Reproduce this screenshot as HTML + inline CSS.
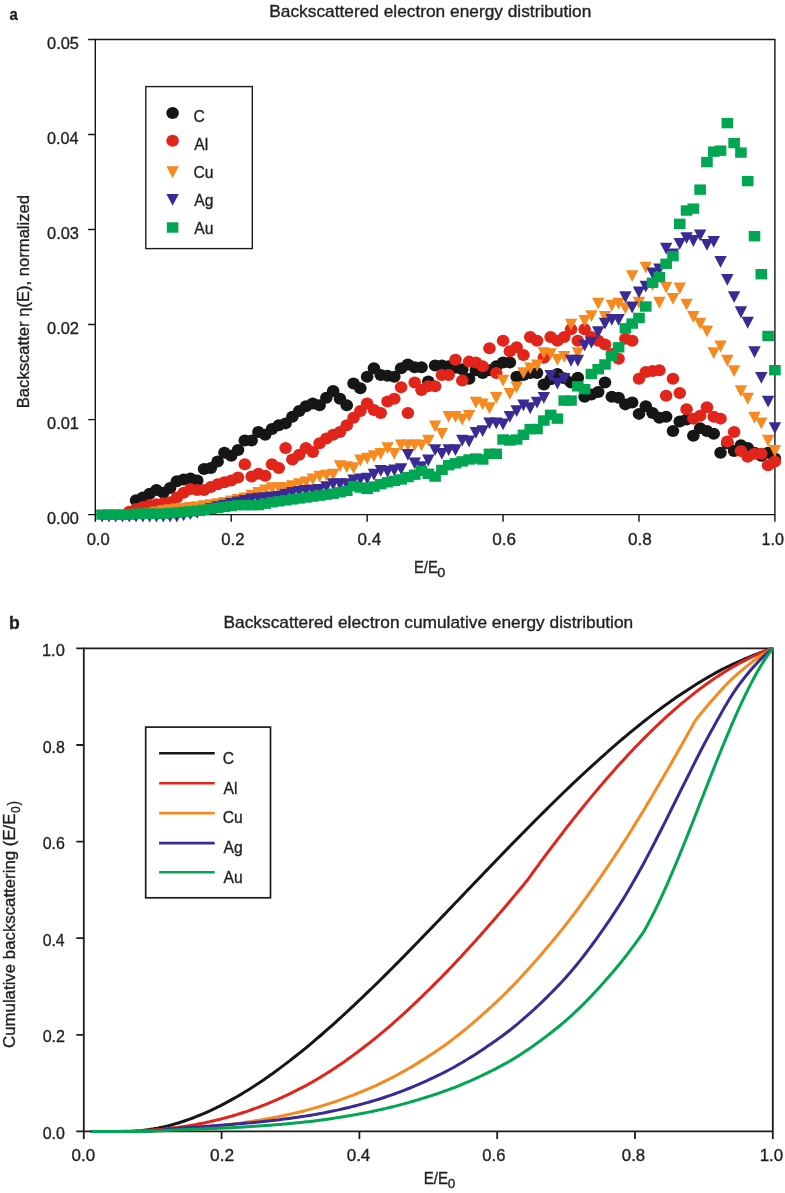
<!DOCTYPE html>
<html><head><meta charset="utf-8"><title>Backscattered electron energy distribution</title>
<style>html,body{margin:0;padding:0;background:#fff;} svg{display:block;} text{font-family:"Liberation Sans", sans-serif;stroke:#231f20;stroke-width:0.35px;}</style></head>
<body><svg width="785" height="1193" viewBox="0 0 785 1193" style="will-change:transform">
<rect width="785" height="1193" fill="#fff"/>
<path d="M95.3,39.5 H774.9 V514.6 H95.3 Z" fill="none" stroke="#141414" stroke-width="1.4"/>
<path d="M88.1,514.60 H95.3 M88.1,419.58 H95.3 M88.1,324.56 H95.3 M88.1,229.54 H95.3 M88.1,134.52 H95.3 M88.1,39.50 H95.3 M95.30,514.6 V521.8000000000001 M231.22,514.6 V521.8000000000001 M367.14,514.6 V521.8000000000001 M503.06,514.6 V521.8000000000001 M638.98,514.6 V521.8000000000001 M774.90,514.6 V521.8000000000001" fill="none" stroke="#141414" stroke-width="1.4"/>
<g fill="#161616"><ellipse cx="136.08" cy="500.35" rx="6.3" ry="6.0"/><ellipse cx="142.87" cy="497.50" rx="6.3" ry="6.0"/><ellipse cx="149.67" cy="493.70" rx="6.3" ry="6.0"/><ellipse cx="156.46" cy="489.89" rx="6.3" ry="6.0"/><ellipse cx="163.26" cy="492.75" rx="6.3" ry="6.0"/><ellipse cx="170.06" cy="487.99" rx="6.3" ry="6.0"/><ellipse cx="176.85" cy="481.34" rx="6.3" ry="6.0"/><ellipse cx="183.65" cy="479.44" rx="6.3" ry="6.0"/><ellipse cx="190.44" cy="478.49" rx="6.3" ry="6.0"/><ellipse cx="197.24" cy="480.39" rx="6.3" ry="6.0"/><ellipse cx="204.04" cy="468.99" rx="6.3" ry="6.0"/><ellipse cx="210.83" cy="468.04" rx="6.3" ry="6.0"/><ellipse cx="217.63" cy="461.39" rx="6.3" ry="6.0"/><ellipse cx="224.42" cy="452.84" rx="6.3" ry="6.0"/><ellipse cx="231.22" cy="455.69" rx="6.3" ry="6.0"/><ellipse cx="238.02" cy="449.99" rx="6.3" ry="6.0"/><ellipse cx="244.81" cy="440.48" rx="6.3" ry="6.0"/><ellipse cx="251.61" cy="440.48" rx="6.3" ry="6.0"/><ellipse cx="258.40" cy="431.93" rx="6.3" ry="6.0"/><ellipse cx="265.20" cy="434.78" rx="6.3" ry="6.0"/><ellipse cx="272.00" cy="429.08" rx="6.3" ry="6.0"/><ellipse cx="278.79" cy="425.28" rx="6.3" ry="6.0"/><ellipse cx="285.59" cy="423.38" rx="6.3" ry="6.0"/><ellipse cx="292.38" cy="416.73" rx="6.3" ry="6.0"/><ellipse cx="299.18" cy="411.03" rx="6.3" ry="6.0"/><ellipse cx="305.98" cy="406.28" rx="6.3" ry="6.0"/><ellipse cx="312.77" cy="403.43" rx="6.3" ry="6.0"/><ellipse cx="319.57" cy="405.33" rx="6.3" ry="6.0"/><ellipse cx="326.36" cy="397.73" rx="6.3" ry="6.0"/><ellipse cx="333.16" cy="391.07" rx="6.3" ry="6.0"/><ellipse cx="339.96" cy="398.68" rx="6.3" ry="6.0"/><ellipse cx="346.75" cy="405.33" rx="6.3" ry="6.0"/><ellipse cx="353.55" cy="383.47" rx="6.3" ry="6.0"/><ellipse cx="360.34" cy="388.22" rx="6.3" ry="6.0"/><ellipse cx="367.14" cy="376.82" rx="6.3" ry="6.0"/><ellipse cx="373.94" cy="368.27" rx="6.3" ry="6.0"/><ellipse cx="380.73" cy="374.92" rx="6.3" ry="6.0"/><ellipse cx="387.53" cy="375.87" rx="6.3" ry="6.0"/><ellipse cx="394.32" cy="376.82" rx="6.3" ry="6.0"/><ellipse cx="401.12" cy="368.27" rx="6.3" ry="6.0"/><ellipse cx="407.92" cy="364.47" rx="6.3" ry="6.0"/><ellipse cx="414.71" cy="367.32" rx="6.3" ry="6.0"/><ellipse cx="421.51" cy="367.32" rx="6.3" ry="6.0"/><ellipse cx="428.30" cy="381.57" rx="6.3" ry="6.0"/><ellipse cx="435.10" cy="365.42" rx="6.3" ry="6.0"/><ellipse cx="441.90" cy="365.42" rx="6.3" ry="6.0"/><ellipse cx="448.69" cy="366.37" rx="6.3" ry="6.0"/><ellipse cx="455.49" cy="367.79" rx="6.3" ry="6.0"/><ellipse cx="462.28" cy="369.22" rx="6.3" ry="6.0"/><ellipse cx="469.08" cy="378.72" rx="6.3" ry="6.0"/><ellipse cx="475.88" cy="370.17" rx="6.3" ry="6.0"/><ellipse cx="482.67" cy="373.02" rx="6.3" ry="6.0"/><ellipse cx="489.47" cy="370.17" rx="6.3" ry="6.0"/><ellipse cx="496.26" cy="366.37" rx="6.3" ry="6.0"/><ellipse cx="503.06" cy="362.57" rx="6.3" ry="6.0"/><ellipse cx="509.86" cy="362.57" rx="6.3" ry="6.0"/><ellipse cx="516.65" cy="376.82" rx="6.3" ry="6.0"/><ellipse cx="523.45" cy="374.92" rx="6.3" ry="6.0"/><ellipse cx="530.24" cy="373.02" rx="6.3" ry="6.0"/><ellipse cx="537.04" cy="373.02" rx="6.3" ry="6.0"/><ellipse cx="543.84" cy="384.42" rx="6.3" ry="6.0"/><ellipse cx="550.63" cy="379.20" rx="6.3" ry="6.0"/><ellipse cx="557.43" cy="373.97" rx="6.3" ry="6.0"/><ellipse cx="564.22" cy="378.25" rx="6.3" ry="6.0"/><ellipse cx="571.02" cy="382.52" rx="6.3" ry="6.0"/><ellipse cx="577.82" cy="377.77" rx="6.3" ry="6.0"/><ellipse cx="584.61" cy="396.78" rx="6.3" ry="6.0"/><ellipse cx="591.41" cy="394.40" rx="6.3" ry="6.0"/><ellipse cx="598.20" cy="392.02" rx="6.3" ry="6.0"/><ellipse cx="605.00" cy="382.52" rx="6.3" ry="6.0"/><ellipse cx="611.80" cy="396.78" rx="6.3" ry="6.0"/><ellipse cx="618.59" cy="397.73" rx="6.3" ry="6.0"/><ellipse cx="625.39" cy="404.38" rx="6.3" ry="6.0"/><ellipse cx="632.18" cy="402.48" rx="6.3" ry="6.0"/><ellipse cx="638.98" cy="413.88" rx="6.3" ry="6.0"/><ellipse cx="645.78" cy="406.28" rx="6.3" ry="6.0"/><ellipse cx="652.57" cy="412.93" rx="6.3" ry="6.0"/><ellipse cx="659.37" cy="417.68" rx="6.3" ry="6.0"/><ellipse cx="666.16" cy="416.73" rx="6.3" ry="6.0"/><ellipse cx="672.96" cy="430.98" rx="6.3" ry="6.0"/><ellipse cx="679.76" cy="421.48" rx="6.3" ry="6.0"/><ellipse cx="686.55" cy="419.58" rx="6.3" ry="6.0"/><ellipse cx="693.35" cy="435.73" rx="6.3" ry="6.0"/><ellipse cx="700.14" cy="428.13" rx="6.3" ry="6.0"/><ellipse cx="706.94" cy="430.98" rx="6.3" ry="6.0"/><ellipse cx="713.74" cy="433.83" rx="6.3" ry="6.0"/><ellipse cx="720.53" cy="452.84" rx="6.3" ry="6.0"/><ellipse cx="727.33" cy="443.34" rx="6.3" ry="6.0"/><ellipse cx="734.12" cy="450.94" rx="6.3" ry="6.0"/><ellipse cx="740.92" cy="445.24" rx="6.3" ry="6.0"/><ellipse cx="747.72" cy="448.09" rx="6.3" ry="6.0"/><ellipse cx="754.51" cy="452.84" rx="6.3" ry="6.0"/><ellipse cx="761.31" cy="455.69" rx="6.3" ry="6.0"/><ellipse cx="768.10" cy="452.84" rx="6.3" ry="6.0"/><ellipse cx="774.90" cy="458.54" rx="6.3" ry="6.0"/></g>
<g fill="#e1251b"><ellipse cx="129.28" cy="511.75" rx="6.3" ry="6.0"/><ellipse cx="136.08" cy="508.90" rx="6.3" ry="6.0"/><ellipse cx="142.87" cy="507.00" rx="6.3" ry="6.0"/><ellipse cx="149.67" cy="505.10" rx="6.3" ry="6.0"/><ellipse cx="156.46" cy="504.15" rx="6.3" ry="6.0"/><ellipse cx="163.26" cy="503.20" rx="6.3" ry="6.0"/><ellipse cx="170.06" cy="502.25" rx="6.3" ry="6.0"/><ellipse cx="176.85" cy="497.50" rx="6.3" ry="6.0"/><ellipse cx="183.65" cy="492.75" rx="6.3" ry="6.0"/><ellipse cx="190.44" cy="488.94" rx="6.3" ry="6.0"/><ellipse cx="197.24" cy="489.89" rx="6.3" ry="6.0"/><ellipse cx="204.04" cy="489.89" rx="6.3" ry="6.0"/><ellipse cx="210.83" cy="487.04" rx="6.3" ry="6.0"/><ellipse cx="217.63" cy="484.19" rx="6.3" ry="6.0"/><ellipse cx="224.42" cy="482.29" rx="6.3" ry="6.0"/><ellipse cx="231.22" cy="480.39" rx="6.3" ry="6.0"/><ellipse cx="238.02" cy="477.54" rx="6.3" ry="6.0"/><ellipse cx="244.81" cy="464.24" rx="6.3" ry="6.0"/><ellipse cx="251.61" cy="476.59" rx="6.3" ry="6.0"/><ellipse cx="258.40" cy="473.74" rx="6.3" ry="6.0"/><ellipse cx="265.20" cy="475.64" rx="6.3" ry="6.0"/><ellipse cx="272.00" cy="464.24" rx="6.3" ry="6.0"/><ellipse cx="278.79" cy="468.04" rx="6.3" ry="6.0"/><ellipse cx="285.59" cy="448.09" rx="6.3" ry="6.0"/><ellipse cx="292.38" cy="459.49" rx="6.3" ry="6.0"/><ellipse cx="299.18" cy="454.74" rx="6.3" ry="6.0"/><ellipse cx="305.98" cy="448.09" rx="6.3" ry="6.0"/><ellipse cx="312.77" cy="451.89" rx="6.3" ry="6.0"/><ellipse cx="319.57" cy="443.34" rx="6.3" ry="6.0"/><ellipse cx="326.36" cy="438.58" rx="6.3" ry="6.0"/><ellipse cx="333.16" cy="434.78" rx="6.3" ry="6.0"/><ellipse cx="339.96" cy="431.93" rx="6.3" ry="6.0"/><ellipse cx="346.75" cy="425.28" rx="6.3" ry="6.0"/><ellipse cx="353.55" cy="417.68" rx="6.3" ry="6.0"/><ellipse cx="360.34" cy="411.03" rx="6.3" ry="6.0"/><ellipse cx="367.14" cy="403.43" rx="6.3" ry="6.0"/><ellipse cx="373.94" cy="410.08" rx="6.3" ry="6.0"/><ellipse cx="380.73" cy="412.93" rx="6.3" ry="6.0"/><ellipse cx="387.53" cy="401.53" rx="6.3" ry="6.0"/><ellipse cx="394.32" cy="398.68" rx="6.3" ry="6.0"/><ellipse cx="401.12" cy="387.27" rx="6.3" ry="6.0"/><ellipse cx="407.92" cy="412.93" rx="6.3" ry="6.0"/><ellipse cx="414.71" cy="382.52" rx="6.3" ry="6.0"/><ellipse cx="421.51" cy="390.12" rx="6.3" ry="6.0"/><ellipse cx="428.30" cy="386.32" rx="6.3" ry="6.0"/><ellipse cx="435.10" cy="386.32" rx="6.3" ry="6.0"/><ellipse cx="441.90" cy="374.92" rx="6.3" ry="6.0"/><ellipse cx="448.69" cy="374.92" rx="6.3" ry="6.0"/><ellipse cx="455.49" cy="359.72" rx="6.3" ry="6.0"/><ellipse cx="462.28" cy="380.62" rx="6.3" ry="6.0"/><ellipse cx="469.08" cy="361.62" rx="6.3" ry="6.0"/><ellipse cx="475.88" cy="362.57" rx="6.3" ry="6.0"/><ellipse cx="482.67" cy="366.37" rx="6.3" ry="6.0"/><ellipse cx="489.47" cy="348.31" rx="6.3" ry="6.0"/><ellipse cx="496.26" cy="373.02" rx="6.3" ry="6.0"/><ellipse cx="503.06" cy="340.71" rx="6.3" ry="6.0"/><ellipse cx="509.86" cy="351.17" rx="6.3" ry="6.0"/><ellipse cx="516.65" cy="347.36" rx="6.3" ry="6.0"/><ellipse cx="523.45" cy="354.97" rx="6.3" ry="6.0"/><ellipse cx="530.24" cy="336.91" rx="6.3" ry="6.0"/><ellipse cx="537.04" cy="340.71" rx="6.3" ry="6.0"/><ellipse cx="543.84" cy="357.82" rx="6.3" ry="6.0"/><ellipse cx="550.63" cy="336.91" rx="6.3" ry="6.0"/><ellipse cx="557.43" cy="340.71" rx="6.3" ry="6.0"/><ellipse cx="564.22" cy="336.91" rx="6.3" ry="6.0"/><ellipse cx="571.02" cy="329.31" rx="6.3" ry="6.0"/><ellipse cx="577.82" cy="340.71" rx="6.3" ry="6.0"/><ellipse cx="584.61" cy="329.31" rx="6.3" ry="6.0"/><ellipse cx="591.41" cy="336.91" rx="6.3" ry="6.0"/><ellipse cx="598.20" cy="340.71" rx="6.3" ry="6.0"/><ellipse cx="605.00" cy="344.51" rx="6.3" ry="6.0"/><ellipse cx="611.80" cy="354.02" rx="6.3" ry="6.0"/><ellipse cx="618.59" cy="358.77" rx="6.3" ry="6.0"/><ellipse cx="625.39" cy="338.81" rx="6.3" ry="6.0"/><ellipse cx="632.18" cy="340.71" rx="6.3" ry="6.0"/><ellipse cx="638.98" cy="378.72" rx="6.3" ry="6.0"/><ellipse cx="645.78" cy="372.07" rx="6.3" ry="6.0"/><ellipse cx="652.57" cy="371.12" rx="6.3" ry="6.0"/><ellipse cx="659.37" cy="370.17" rx="6.3" ry="6.0"/><ellipse cx="666.16" cy="395.83" rx="6.3" ry="6.0"/><ellipse cx="672.96" cy="378.72" rx="6.3" ry="6.0"/><ellipse cx="679.76" cy="392.97" rx="6.3" ry="6.0"/><ellipse cx="686.55" cy="409.13" rx="6.3" ry="6.0"/><ellipse cx="693.35" cy="418.63" rx="6.3" ry="6.0"/><ellipse cx="700.14" cy="415.78" rx="6.3" ry="6.0"/><ellipse cx="706.94" cy="407.23" rx="6.3" ry="6.0"/><ellipse cx="713.74" cy="416.73" rx="6.3" ry="6.0"/><ellipse cx="720.53" cy="418.63" rx="6.3" ry="6.0"/><ellipse cx="727.33" cy="441.43" rx="6.3" ry="6.0"/><ellipse cx="734.12" cy="431.93" rx="6.3" ry="6.0"/><ellipse cx="740.92" cy="450.94" rx="6.3" ry="6.0"/><ellipse cx="747.72" cy="456.64" rx="6.3" ry="6.0"/><ellipse cx="754.51" cy="453.79" rx="6.3" ry="6.0"/><ellipse cx="761.31" cy="453.79" rx="6.3" ry="6.0"/><ellipse cx="768.10" cy="465.19" rx="6.3" ry="6.0"/><ellipse cx="774.90" cy="461.39" rx="6.3" ry="6.0"/></g>
<g fill="#f6891f"><path d="M143.47,507.82h12.4l-6.20,11.80z"/><path d="M150.26,506.39h12.4l-6.20,11.80z"/><path d="M157.06,504.97h12.4l-6.20,11.80z"/><path d="M163.86,504.21h12.4l-6.20,11.80z"/><path d="M170.65,503.45h12.4l-6.20,11.80z"/><path d="M177.45,502.68h12.4l-6.20,11.80z"/><path d="M184.24,501.92h12.4l-6.20,11.80z"/><path d="M191.04,501.16h12.4l-6.20,11.80z"/><path d="M197.84,500.21h12.4l-6.20,11.80z"/><path d="M204.63,499.26h12.4l-6.20,11.80z"/><path d="M211.43,498.31h12.4l-6.20,11.80z"/><path d="M218.22,496.89h12.4l-6.20,11.80z"/><path d="M225.02,495.46h12.4l-6.20,11.80z"/><path d="M231.82,494.04h12.4l-6.20,11.80z"/><path d="M238.61,492.61h12.4l-6.20,11.80z"/><path d="M245.41,489.76h12.4l-6.20,11.80z"/><path d="M252.20,486.91h12.4l-6.20,11.80z"/><path d="M259.00,484.54h12.4l-6.20,11.80z"/><path d="M265.80,482.16h12.4l-6.20,11.80z"/><path d="M272.59,482.16h12.4l-6.20,11.80z"/><path d="M279.39,482.16h12.4l-6.20,11.80z"/><path d="M286.18,480.26h12.4l-6.20,11.80z"/><path d="M292.98,478.36h12.4l-6.20,11.80z"/><path d="M299.78,476.46h12.4l-6.20,11.80z"/><path d="M306.57,473.61h12.4l-6.20,11.80z"/><path d="M313.37,470.76h12.4l-6.20,11.80z"/><path d="M320.16,469.81h12.4l-6.20,11.80z"/><path d="M326.96,468.86h12.4l-6.20,11.80z"/><path d="M333.76,460.31h12.4l-6.20,11.80z"/><path d="M340.55,461.26h12.4l-6.20,11.80z"/><path d="M347.35,462.21h12.4l-6.20,11.80z"/><path d="M354.14,454.60h12.4l-6.20,11.80z"/><path d="M360.94,452.70h12.4l-6.20,11.80z"/><path d="M367.74,450.33h12.4l-6.20,11.80z"/><path d="M374.53,447.95h12.4l-6.20,11.80z"/><path d="M381.33,442.25h12.4l-6.20,11.80z"/><path d="M388.12,447.95h12.4l-6.20,11.80z"/><path d="M394.92,439.40h12.4l-6.20,11.80z"/><path d="M401.72,439.40h12.4l-6.20,11.80z"/><path d="M408.51,439.40h12.4l-6.20,11.80z"/><path d="M415.31,439.40h12.4l-6.20,11.80z"/><path d="M422.10,434.65h12.4l-6.20,11.80z"/><path d="M428.90,420.40h12.4l-6.20,11.80z"/><path d="M435.70,428.00h12.4l-6.20,11.80z"/><path d="M442.49,410.90h12.4l-6.20,11.80z"/><path d="M449.29,410.90h12.4l-6.20,11.80z"/><path d="M456.08,413.75h12.4l-6.20,11.80z"/><path d="M462.88,409.95h12.4l-6.20,11.80z"/><path d="M469.68,396.64h12.4l-6.20,11.80z"/><path d="M476.47,398.54h12.4l-6.20,11.80z"/><path d="M483.27,402.34h12.4l-6.20,11.80z"/><path d="M490.06,391.89h12.4l-6.20,11.80z"/><path d="M496.86,374.79h12.4l-6.20,11.80z"/><path d="M503.66,388.09h12.4l-6.20,11.80z"/><path d="M510.45,381.44h12.4l-6.20,11.80z"/><path d="M517.25,367.19h12.4l-6.20,11.80z"/><path d="M524.04,362.44h12.4l-6.20,11.80z"/><path d="M530.84,359.58h12.4l-6.20,11.80z"/><path d="M537.64,347.23h12.4l-6.20,11.80z"/><path d="M544.43,348.18h12.4l-6.20,11.80z"/><path d="M551.23,353.88h12.4l-6.20,11.80z"/><path d="M558.02,351.03h12.4l-6.20,11.80z"/><path d="M564.82,318.73h12.4l-6.20,11.80z"/><path d="M571.62,347.23h12.4l-6.20,11.80z"/><path d="M578.41,314.93h12.4l-6.20,11.80z"/><path d="M585.21,310.17h12.4l-6.20,11.80z"/><path d="M592.00,297.82h12.4l-6.20,11.80z"/><path d="M598.80,311.12h12.4l-6.20,11.80z"/><path d="M605.60,299.72h12.4l-6.20,11.80z"/><path d="M612.39,297.82h12.4l-6.20,11.80z"/><path d="M619.19,302.57h12.4l-6.20,11.80z"/><path d="M625.98,270.27h12.4l-6.20,11.80z"/><path d="M632.78,296.87h12.4l-6.20,11.80z"/><path d="M639.58,261.71h12.4l-6.20,11.80z"/><path d="M646.37,279.29h12.4l-6.20,11.80z"/><path d="M653.17,296.87h12.4l-6.20,11.80z"/><path d="M659.96,281.67h12.4l-6.20,11.80z"/><path d="M666.76,293.07h12.4l-6.20,11.80z"/><path d="M673.56,282.62h12.4l-6.20,11.80z"/><path d="M680.35,298.77h12.4l-6.20,11.80z"/><path d="M687.15,311.12h12.4l-6.20,11.80z"/><path d="M693.94,317.78h12.4l-6.20,11.80z"/><path d="M700.74,325.38h12.4l-6.20,11.80z"/><path d="M707.54,347.23h12.4l-6.20,11.80z"/><path d="M714.33,340.58h12.4l-6.20,11.80z"/><path d="M721.13,354.83h12.4l-6.20,11.80z"/><path d="M727.92,365.29h12.4l-6.20,11.80z"/><path d="M734.72,385.24h12.4l-6.20,11.80z"/><path d="M741.52,392.84h12.4l-6.20,11.80z"/><path d="M748.31,411.85h12.4l-6.20,11.80z"/><path d="M755.11,417.55h12.4l-6.20,11.80z"/><path d="M761.90,434.65h12.4l-6.20,11.80z"/><path d="M768.70,445.10h12.4l-6.20,11.80z"/></g>
<g fill="#3a2a94"><path d="M95.90,510.67h12.4l-6.20,11.80z"/><path d="M102.69,510.67h12.4l-6.20,11.80z"/><path d="M109.49,510.67h12.4l-6.20,11.80z"/><path d="M116.28,510.67h12.4l-6.20,11.80z"/><path d="M123.08,510.67h12.4l-6.20,11.80z"/><path d="M129.88,510.67h12.4l-6.20,11.80z"/><path d="M136.67,510.67h12.4l-6.20,11.80z"/><path d="M143.47,510.67h12.4l-6.20,11.80z"/><path d="M150.26,510.67h12.4l-6.20,11.80z"/><path d="M157.06,510.67h12.4l-6.20,11.80z"/><path d="M163.86,510.67h12.4l-6.20,11.80z"/><path d="M170.65,510.67h12.4l-6.20,11.80z"/><path d="M177.45,509.40h12.4l-6.20,11.80z"/><path d="M184.24,508.13h12.4l-6.20,11.80z"/><path d="M191.04,506.87h12.4l-6.20,11.80z"/><path d="M197.84,504.97h12.4l-6.20,11.80z"/><path d="M204.63,503.07h12.4l-6.20,11.80z"/><path d="M211.43,501.16h12.4l-6.20,11.80z"/><path d="M218.22,499.64h12.4l-6.20,11.80z"/><path d="M225.02,498.12h12.4l-6.20,11.80z"/><path d="M231.82,496.60h12.4l-6.20,11.80z"/><path d="M238.61,495.08h12.4l-6.20,11.80z"/><path d="M245.41,493.56h12.4l-6.20,11.80z"/><path d="M252.20,492.85h12.4l-6.20,11.80z"/><path d="M259.00,492.14h12.4l-6.20,11.80z"/><path d="M265.80,491.43h12.4l-6.20,11.80z"/><path d="M272.59,490.71h12.4l-6.20,11.80z"/><path d="M279.39,488.81h12.4l-6.20,11.80z"/><path d="M286.18,486.91h12.4l-6.20,11.80z"/><path d="M292.98,485.96h12.4l-6.20,11.80z"/><path d="M299.78,485.01h12.4l-6.20,11.80z"/><path d="M306.57,484.54h12.4l-6.20,11.80z"/><path d="M313.37,484.06h12.4l-6.20,11.80z"/><path d="M320.16,481.21h12.4l-6.20,11.80z"/><path d="M326.96,478.36h12.4l-6.20,11.80z"/><path d="M333.76,478.36h12.4l-6.20,11.80z"/><path d="M340.55,478.36h12.4l-6.20,11.80z"/><path d="M347.35,474.56h12.4l-6.20,11.80z"/><path d="M354.14,473.61h12.4l-6.20,11.80z"/><path d="M360.94,472.66h12.4l-6.20,11.80z"/><path d="M367.74,468.86h12.4l-6.20,11.80z"/><path d="M374.53,465.06h12.4l-6.20,11.80z"/><path d="M381.33,466.01h12.4l-6.20,11.80z"/><path d="M388.12,464.58h12.4l-6.20,11.80z"/><path d="M394.92,463.16h12.4l-6.20,11.80z"/><path d="M401.72,448.90h12.4l-6.20,11.80z"/><path d="M408.51,457.46h12.4l-6.20,11.80z"/><path d="M415.31,461.26h12.4l-6.20,11.80z"/><path d="M422.10,454.60h12.4l-6.20,11.80z"/><path d="M428.90,444.15h12.4l-6.20,11.80z"/><path d="M435.70,447.95h12.4l-6.20,11.80z"/><path d="M442.49,444.15h12.4l-6.20,11.80z"/><path d="M449.29,444.15h12.4l-6.20,11.80z"/><path d="M456.08,434.65h12.4l-6.20,11.80z"/><path d="M462.88,435.60h12.4l-6.20,11.80z"/><path d="M469.68,427.05h12.4l-6.20,11.80z"/><path d="M476.47,425.15h12.4l-6.20,11.80z"/><path d="M483.27,417.55h12.4l-6.20,11.80z"/><path d="M490.06,417.55h12.4l-6.20,11.80z"/><path d="M496.86,418.50h12.4l-6.20,11.80z"/><path d="M503.66,410.90h12.4l-6.20,11.80z"/><path d="M510.45,405.19h12.4l-6.20,11.80z"/><path d="M517.25,399.49h12.4l-6.20,11.80z"/><path d="M524.04,402.34h12.4l-6.20,11.80z"/><path d="M530.84,396.64h12.4l-6.20,11.80z"/><path d="M537.64,391.89h12.4l-6.20,11.80z"/><path d="M544.43,370.04h12.4l-6.20,11.80z"/><path d="M551.23,377.64h12.4l-6.20,11.80z"/><path d="M558.02,372.89h12.4l-6.20,11.80z"/><path d="M564.82,354.83h12.4l-6.20,11.80z"/><path d="M571.62,354.83h12.4l-6.20,11.80z"/><path d="M578.41,339.63h12.4l-6.20,11.80z"/><path d="M585.21,336.78h12.4l-6.20,11.80z"/><path d="M592.00,326.33h12.4l-6.20,11.80z"/><path d="M598.80,317.78h12.4l-6.20,11.80z"/><path d="M605.60,313.98h12.4l-6.20,11.80z"/><path d="M612.39,313.98h12.4l-6.20,11.80z"/><path d="M619.19,291.17h12.4l-6.20,11.80z"/><path d="M625.98,301.62h12.4l-6.20,11.80z"/><path d="M632.78,286.42h12.4l-6.20,11.80z"/><path d="M639.58,280.72h12.4l-6.20,11.80z"/><path d="M646.37,267.42h12.4l-6.20,11.80z"/><path d="M653.17,263.61h12.4l-6.20,11.80z"/><path d="M659.96,242.71h12.4l-6.20,11.80z"/><path d="M666.76,248.41h12.4l-6.20,11.80z"/><path d="M673.56,237.96h12.4l-6.20,11.80z"/><path d="M680.35,232.26h12.4l-6.20,11.80z"/><path d="M687.15,235.11h12.4l-6.20,11.80z"/><path d="M693.94,229.41h12.4l-6.20,11.80z"/><path d="M700.74,238.91h12.4l-6.20,11.80z"/><path d="M707.54,236.06h12.4l-6.20,11.80z"/><path d="M714.33,256.01h12.4l-6.20,11.80z"/><path d="M721.13,274.07h12.4l-6.20,11.80z"/><path d="M727.92,291.17h12.4l-6.20,11.80z"/><path d="M734.72,306.37h12.4l-6.20,11.80z"/><path d="M741.52,316.83h12.4l-6.20,11.80z"/><path d="M748.31,346.28h12.4l-6.20,11.80z"/><path d="M755.11,371.94h12.4l-6.20,11.80z"/><path d="M761.90,395.69h12.4l-6.20,11.80z"/><path d="M768.70,422.30h12.4l-6.20,11.80z"/></g>
<g fill="#00a651"><rect x="96.30" y="509.40" width="11.6" height="10.4"/><rect x="103.09" y="509.40" width="11.6" height="10.4"/><rect x="109.89" y="509.40" width="11.6" height="10.4"/><rect x="116.68" y="509.40" width="11.6" height="10.4"/><rect x="123.48" y="509.40" width="11.6" height="10.4"/><rect x="130.28" y="508.45" width="11.6" height="10.4"/><rect x="137.07" y="508.45" width="11.6" height="10.4"/><rect x="143.87" y="508.45" width="11.6" height="10.4"/><rect x="150.66" y="508.45" width="11.6" height="10.4"/><rect x="157.46" y="508.45" width="11.6" height="10.4"/><rect x="164.26" y="507.88" width="11.6" height="10.4"/><rect x="171.05" y="507.31" width="11.6" height="10.4"/><rect x="177.85" y="506.74" width="11.6" height="10.4"/><rect x="184.64" y="506.17" width="11.6" height="10.4"/><rect x="191.44" y="505.60" width="11.6" height="10.4"/><rect x="198.24" y="504.65" width="11.6" height="10.4"/><rect x="205.03" y="503.70" width="11.6" height="10.4"/><rect x="211.83" y="502.75" width="11.6" height="10.4"/><rect x="218.62" y="501.80" width="11.6" height="10.4"/><rect x="225.42" y="500.85" width="11.6" height="10.4"/><rect x="232.22" y="499.90" width="11.6" height="10.4"/><rect x="239.01" y="499.90" width="11.6" height="10.4"/><rect x="245.81" y="499.90" width="11.6" height="10.4"/><rect x="252.60" y="499.90" width="11.6" height="10.4"/><rect x="259.40" y="498.47" width="11.6" height="10.4"/><rect x="266.20" y="497.05" width="11.6" height="10.4"/><rect x="272.99" y="496.10" width="11.6" height="10.4"/><rect x="279.79" y="495.15" width="11.6" height="10.4"/><rect x="286.58" y="494.20" width="11.6" height="10.4"/><rect x="293.38" y="493.25" width="11.6" height="10.4"/><rect x="300.18" y="492.30" width="11.6" height="10.4"/><rect x="306.97" y="491.35" width="11.6" height="10.4"/><rect x="313.77" y="490.40" width="11.6" height="10.4"/><rect x="320.56" y="489.45" width="11.6" height="10.4"/><rect x="327.36" y="488.50" width="11.6" height="10.4"/><rect x="334.16" y="487.07" width="11.6" height="10.4"/><rect x="340.95" y="485.65" width="11.6" height="10.4"/><rect x="347.75" y="480.89" width="11.6" height="10.4"/><rect x="354.54" y="482.32" width="11.6" height="10.4"/><rect x="361.34" y="483.74" width="11.6" height="10.4"/><rect x="368.14" y="481.37" width="11.6" height="10.4"/><rect x="374.93" y="478.99" width="11.6" height="10.4"/><rect x="381.73" y="477.09" width="11.6" height="10.4"/><rect x="388.52" y="475.67" width="11.6" height="10.4"/><rect x="395.32" y="474.24" width="11.6" height="10.4"/><rect x="402.12" y="471.87" width="11.6" height="10.4"/><rect x="408.91" y="469.49" width="11.6" height="10.4"/><rect x="415.71" y="465.69" width="11.6" height="10.4"/><rect x="422.50" y="468.54" width="11.6" height="10.4"/><rect x="429.30" y="471.39" width="11.6" height="10.4"/><rect x="436.10" y="464.74" width="11.6" height="10.4"/><rect x="442.89" y="459.99" width="11.6" height="10.4"/><rect x="449.69" y="458.09" width="11.6" height="10.4"/><rect x="456.48" y="456.19" width="11.6" height="10.4"/><rect x="463.28" y="454.29" width="11.6" height="10.4"/><rect x="470.08" y="453.34" width="11.6" height="10.4"/><rect x="476.87" y="454.29" width="11.6" height="10.4"/><rect x="483.67" y="448.59" width="11.6" height="10.4"/><rect x="490.46" y="448.59" width="11.6" height="10.4"/><rect x="497.26" y="434.33" width="11.6" height="10.4"/><rect x="504.06" y="435.28" width="11.6" height="10.4"/><rect x="510.85" y="434.33" width="11.6" height="10.4"/><rect x="517.65" y="429.58" width="11.6" height="10.4"/><rect x="524.44" y="423.88" width="11.6" height="10.4"/><rect x="531.24" y="423.88" width="11.6" height="10.4"/><rect x="538.04" y="415.33" width="11.6" height="10.4"/><rect x="544.83" y="409.63" width="11.6" height="10.4"/><rect x="551.63" y="413.43" width="11.6" height="10.4"/><rect x="558.42" y="395.38" width="11.6" height="10.4"/><rect x="565.22" y="395.38" width="11.6" height="10.4"/><rect x="572.02" y="381.12" width="11.6" height="10.4"/><rect x="578.81" y="383.97" width="11.6" height="10.4"/><rect x="585.61" y="368.77" width="11.6" height="10.4"/><rect x="592.40" y="364.02" width="11.6" height="10.4"/><rect x="599.20" y="359.27" width="11.6" height="10.4"/><rect x="606.00" y="350.72" width="11.6" height="10.4"/><rect x="612.79" y="342.16" width="11.6" height="10.4"/><rect x="619.59" y="323.16" width="11.6" height="10.4"/><rect x="626.38" y="318.41" width="11.6" height="10.4"/><rect x="633.18" y="312.71" width="11.6" height="10.4"/><rect x="639.98" y="301.31" width="11.6" height="10.4"/><rect x="646.77" y="277.55" width="11.6" height="10.4"/><rect x="653.57" y="271.85" width="11.6" height="10.4"/><rect x="660.36" y="258.55" width="11.6" height="10.4"/><rect x="667.16" y="250.95" width="11.6" height="10.4"/><rect x="673.96" y="218.64" width="11.6" height="10.4"/><rect x="680.75" y="205.34" width="11.6" height="10.4"/><rect x="687.55" y="203.44" width="11.6" height="10.4"/><rect x="694.34" y="184.43" width="11.6" height="10.4"/><rect x="701.14" y="156.88" width="11.6" height="10.4"/><rect x="707.94" y="146.42" width="11.6" height="10.4"/><rect x="714.73" y="145.47" width="11.6" height="10.4"/><rect x="721.53" y="117.92" width="11.6" height="10.4"/><rect x="728.32" y="137.87" width="11.6" height="10.4"/><rect x="735.12" y="147.37" width="11.6" height="10.4"/><rect x="741.92" y="175.88" width="11.6" height="10.4"/><rect x="748.71" y="230.99" width="11.6" height="10.4"/><rect x="755.51" y="269.00" width="11.6" height="10.4"/><rect x="762.30" y="330.76" width="11.6" height="10.4"/><rect x="769.10" y="364.97" width="11.6" height="10.4"/></g>
<rect x="145.8" y="86.6" width="106.5" height="162" fill="none" stroke="#1c1c1c" stroke-width="1.4"/>
<g fill="#161616"><ellipse cx="172.60" cy="113.00" rx="6.3" ry="6.0"/></g>
<g fill="#e1251b"><ellipse cx="172.60" cy="140.80" rx="6.3" ry="6.0"/></g>
<g fill="#f6891f"><path d="M166.40,166.37h12.4l-6.20,11.80z"/></g>
<g fill="#3a2a94"><path d="M166.40,194.07h12.4l-6.20,11.80z"/></g>
<g fill="#00a651"><rect x="166.80" y="222.30" width="11.6" height="10.4"/></g>
<path d="M83.8,648.4 H772.8 V1131.4 H83.8 Z" fill="none" stroke="#1c1c1c" stroke-width="1.8"/>
<path d="M76.3,1131.40 H83.8 M76.3,1034.80 H83.8 M76.3,938.20 H83.8 M76.3,841.60 H83.8 M76.3,745.00 H83.8 M76.3,648.40 H83.8 M83.80,1131.4 V1138.9 M221.60,1131.4 V1138.9 M359.40,1131.4 V1138.9 M497.20,1131.4 V1138.9 M635.00,1131.4 V1138.9 M772.80,1131.4 V1138.9" fill="none" stroke="#1c1c1c" stroke-width="1.8"/>
<path d="M90.71,1131.40 L93.02,1131.40 L95.32,1131.40 L97.63,1131.40 L99.93,1131.40 L102.23,1131.40 L104.54,1131.40 L106.84,1131.40 L109.15,1131.40 L111.45,1131.40 L113.76,1131.40 L116.06,1131.40 L118.37,1131.40 L120.67,1131.40 L122.97,1131.40 L125.28,1131.40 L127.58,1131.39 L129.89,1131.39 L132.19,1131.35 L134.50,1131.25 L136.80,1131.09 L139.10,1130.88 L141.41,1130.62 L143.71,1130.33 L146.02,1130.01 L148.32,1129.67 L150.63,1129.31 L152.93,1128.95 L155.23,1128.59 L157.54,1128.22 L159.84,1127.78 L162.15,1127.29 L164.45,1126.76 L166.76,1126.19 L169.06,1125.59 L171.37,1124.95 L173.67,1124.30 L175.97,1123.62 L178.28,1122.94 L180.58,1122.24 L182.89,1121.52 L185.19,1120.75 L187.50,1119.95 L189.80,1119.12 L192.10,1118.25 L194.41,1117.36 L196.71,1116.44 L199.02,1115.50 L201.32,1114.54 L203.63,1113.57 L205.93,1112.58 L208.23,1111.57 L210.54,1110.52 L212.84,1109.44 L215.15,1108.33 L217.45,1107.20 L219.76,1106.04 L222.06,1104.85 L224.37,1103.64 L226.67,1102.42 L228.97,1101.18 L231.28,1099.92 L233.58,1098.63 L235.89,1097.32 L238.19,1095.98 L240.50,1094.62 L242.80,1093.24 L245.10,1091.84 L247.41,1090.41 L249.71,1088.96 L252.02,1087.50 L254.32,1086.01 L256.63,1084.51 L258.93,1082.99 L261.23,1081.45 L263.54,1079.89 L265.84,1078.30 L268.15,1076.69 L270.45,1075.06 L272.76,1073.41 L275.06,1071.74 L277.37,1070.05 L279.67,1068.34 L281.97,1066.62 L284.28,1064.88 L286.58,1063.13 L288.89,1061.36 L291.19,1059.58 L293.50,1057.78 L295.80,1055.98 L298.10,1054.16 L300.41,1052.34 L302.71,1050.49 L305.02,1048.63 L307.32,1046.74 L309.63,1044.82 L311.93,1042.89 L314.23,1040.95 L316.54,1038.98 L318.84,1037.00 L321.15,1035.00 L323.45,1033.00 L325.76,1030.98 L328.06,1028.95 L330.37,1026.91 L332.67,1024.86 L334.97,1022.80 L337.28,1020.72 L339.58,1018.62 L341.89,1016.51 L344.19,1014.40 L346.50,1012.26 L348.80,1010.12 L351.10,1007.97 L353.41,1005.81 L355.71,1003.63 L358.02,1001.45 L360.32,999.26 L362.63,997.07 L364.93,994.87 L367.23,992.66 L369.54,990.44 L371.84,988.22 L374.15,985.99 L376.45,983.74 L378.76,981.48 L381.06,979.20 L383.37,976.92 L385.67,974.63 L387.97,972.33 L390.28,970.02 L392.58,967.71 L394.89,965.39 L397.19,963.07 L399.50,960.74 L401.80,958.41 L404.10,956.08 L406.41,953.73 L408.71,951.38 L411.02,949.02 L413.32,946.66 L415.63,944.29 L417.93,941.92 L420.23,939.54 L422.54,937.16 L424.84,934.77 L427.15,932.39 L429.45,930.00 L431.76,927.60 L434.06,925.21 L436.37,922.82 L438.67,920.43 L440.97,918.03 L443.28,915.64 L445.58,913.23 L447.89,910.82 L450.19,908.41 L452.50,906.00 L454.80,903.58 L457.10,901.17 L459.41,898.76 L461.71,896.36 L464.02,893.95 L466.32,891.54 L468.63,889.14 L470.93,886.73 L473.23,884.32 L475.54,881.91 L477.84,879.50 L480.15,877.10 L482.45,874.69 L484.76,872.29 L487.06,869.89 L489.37,867.49 L491.67,865.09 L493.97,862.70 L496.28,860.31 L498.58,857.92 L500.89,855.54 L503.19,853.15 L505.50,850.77 L507.80,848.40 L510.10,846.02 L512.41,843.65 L514.71,841.29 L517.02,838.94 L519.32,836.59 L521.63,834.26 L523.93,831.93 L526.23,829.60 L528.54,827.27 L530.84,824.95 L533.15,822.63 L535.45,820.31 L537.76,818.01 L540.06,815.70 L542.37,813.40 L544.67,811.11 L546.97,808.82 L549.28,806.54 L551.58,804.27 L553.89,802.00 L556.19,799.74 L558.50,797.49 L560.80,795.25 L563.10,793.01 L565.41,790.78 L567.71,788.56 L570.02,786.35 L572.32,784.15 L574.63,781.97 L576.93,779.80 L579.23,777.65 L581.54,775.51 L583.84,773.38 L586.15,771.25 L588.45,769.13 L590.76,767.03 L593.06,764.92 L595.37,762.83 L597.67,760.74 L599.97,758.67 L602.28,756.60 L604.58,754.54 L606.89,752.50 L609.19,750.46 L611.50,748.44 L613.80,746.42 L616.10,744.42 L618.41,742.43 L620.71,740.46 L623.02,738.50 L625.32,736.55 L627.63,734.63 L629.93,732.71 L632.23,730.82 L634.54,728.93 L636.84,727.07 L639.15,725.22 L641.45,723.38 L643.76,721.55 L646.06,719.74 L648.37,717.94 L650.67,716.15 L652.97,714.39 L655.28,712.63 L657.58,710.90 L659.89,709.18 L662.19,707.48 L664.50,705.79 L666.80,704.11 L669.10,702.45 L671.41,700.81 L673.71,699.18 L676.02,697.59 L678.32,696.01 L680.63,694.47 L682.93,692.94 L685.23,691.42 L687.54,689.91 L689.84,688.42 L692.15,686.95 L694.45,685.49 L696.76,684.05 L699.06,682.62 L701.37,681.22 L703.67,679.83 L705.97,678.46 L708.28,677.11 L710.58,675.78 L712.89,674.46 L715.19,673.15 L717.50,671.87 L719.80,670.62 L722.10,669.40 L724.41,668.23 L726.71,667.11 L729.02,666.02 L731.32,664.95 L733.63,663.88 L735.93,662.83 L738.23,661.79 L740.54,660.76 L742.84,659.75 L745.15,658.75 L747.45,657.77 L749.76,656.81 L752.06,655.87 L754.37,654.94 L756.67,654.04 L758.97,653.16 L761.28,652.30 L763.58,651.47 L765.89,650.66 L768.19,649.88 L770.50,649.13 L772.80,648.40" fill="none" stroke="#161616" stroke-width="3.0" stroke-linejoin="round" stroke-linecap="butt"/>
<path d="M91.22,1131.40 L92.70,1131.40 L94.19,1131.40 L95.67,1131.40 L97.16,1131.40 L98.64,1131.40 L100.12,1131.40 L101.61,1131.40 L103.09,1131.40 L104.58,1131.40 L106.06,1131.40 L107.54,1131.40 L109.03,1131.40 L110.51,1131.40 L112.00,1131.40 L113.48,1131.40 L114.96,1131.40 L116.45,1131.40 L117.93,1131.40 L119.42,1131.40 L120.90,1131.39 L122.38,1131.37 L123.87,1131.35 L125.35,1131.32 L126.84,1131.29 L128.32,1131.26 L129.80,1131.22 L131.29,1131.18 L132.77,1131.14 L134.26,1131.09 L135.74,1131.03 L137.22,1130.97 L138.71,1130.90 L140.19,1130.83 L141.68,1130.75 L143.16,1130.66 L144.64,1130.57 L146.13,1130.48 L147.61,1130.38 L149.10,1130.28 L150.58,1130.18 L152.06,1130.08 L153.55,1129.97 L155.03,1129.86 L156.52,1129.75 L158.00,1129.63 L159.48,1129.51 L160.97,1129.37 L162.45,1129.22 L163.94,1129.07 L165.42,1128.91 L166.90,1128.75 L168.39,1128.58 L169.87,1128.40 L171.36,1128.22 L172.84,1128.03 L174.32,1127.84 L175.81,1127.65 L177.29,1127.45 L178.78,1127.25 L180.26,1127.05 L181.74,1126.84 L183.23,1126.63 L184.71,1126.40 L186.20,1126.17 L187.68,1125.93 L189.16,1125.69 L190.65,1125.43 L192.13,1125.17 L193.62,1124.91 L195.10,1124.64 L196.58,1124.36 L198.07,1124.08 L199.55,1123.79 L201.04,1123.50 L202.52,1123.21 L204.00,1122.91 L205.49,1122.61 L206.97,1122.30 L208.46,1121.98 L209.94,1121.65 L211.42,1121.32 L212.91,1120.98 L214.39,1120.63 L215.88,1120.28 L217.36,1119.91 L218.84,1119.54 L220.33,1119.17 L221.81,1118.79 L223.30,1118.40 L224.78,1118.00 L226.26,1117.60 L227.75,1117.20 L229.23,1116.79 L230.72,1116.37 L232.20,1115.94 L233.68,1115.51 L235.17,1115.07 L236.65,1114.63 L238.14,1114.17 L239.62,1113.71 L241.10,1113.25 L242.59,1112.77 L244.07,1112.29 L245.56,1111.80 L247.04,1111.30 L248.52,1110.80 L250.01,1110.28 L251.49,1109.77 L252.98,1109.24 L254.46,1108.71 L255.94,1108.17 L257.43,1107.62 L258.91,1107.07 L260.40,1106.51 L261.88,1105.94 L263.36,1105.37 L264.85,1104.78 L266.33,1104.19 L267.82,1103.58 L269.30,1102.97 L270.78,1102.35 L272.27,1101.73 L273.75,1101.09 L275.24,1100.45 L276.72,1099.80 L278.20,1099.14 L279.69,1098.47 L281.17,1097.80 L282.66,1097.12 L284.14,1096.43 L285.62,1095.74 L287.11,1095.03 L288.59,1094.33 L290.08,1093.61 L291.56,1092.89 L293.04,1092.17 L294.53,1091.43 L296.01,1090.69 L297.50,1089.95 L298.98,1089.20 L300.46,1088.44 L301.95,1087.68 L303.43,1086.90 L304.92,1086.11 L306.40,1085.31 L307.88,1084.50 L309.37,1083.67 L310.85,1082.84 L312.34,1082.00 L313.82,1081.14 L315.30,1080.28 L316.79,1079.41 L318.27,1078.52 L319.76,1077.63 L321.24,1076.73 L322.72,1075.82 L324.21,1074.91 L325.69,1073.98 L327.18,1073.05 L328.66,1072.11 L330.14,1071.17 L331.63,1070.21 L333.11,1069.25 L334.60,1068.27 L336.08,1067.29 L337.56,1066.29 L339.05,1065.28 L340.53,1064.27 L342.02,1063.24 L343.50,1062.21 L344.98,1061.17 L346.47,1060.12 L347.95,1059.06 L349.44,1057.99 L350.92,1056.92 L352.40,1055.84 L353.89,1054.75 L355.37,1053.65 L356.86,1052.55 L358.34,1051.43 L359.82,1050.32 L361.31,1049.19 L362.79,1048.06 L364.28,1046.93 L365.76,1045.79 L367.24,1044.64 L368.73,1043.49 L370.21,1042.33 L371.70,1041.16 L373.18,1039.98 L374.66,1038.79 L376.15,1037.59 L377.63,1036.38 L379.12,1035.16 L380.60,1033.93 L382.08,1032.69 L383.57,1031.44 L385.05,1030.18 L386.54,1028.91 L388.02,1027.63 L389.50,1026.35 L390.99,1025.06 L392.47,1023.76 L393.96,1022.46 L395.44,1021.14 L396.92,1019.83 L398.41,1018.50 L399.89,1017.17 L401.38,1015.84 L402.86,1014.49 L404.34,1013.14 L405.83,1011.78 L407.31,1010.41 L408.80,1009.04 L410.28,1007.65 L411.76,1006.26 L413.25,1004.86 L414.73,1003.46 L416.22,1002.04 L417.70,1000.63 L419.18,999.20 L420.67,997.77 L422.15,996.33 L423.64,994.89 L425.12,993.44 L426.60,991.99 L428.09,990.53 L429.57,989.07 L431.06,987.60 L432.54,986.13 L434.02,984.65 L435.51,983.17 L436.99,981.68 L438.48,980.19 L439.96,978.70 L441.44,977.20 L442.93,975.69 L444.41,974.17 L445.90,972.65 L447.38,971.11 L448.86,969.56 L450.35,968.01 L451.83,966.45 L453.32,964.88 L454.80,963.30 L456.28,961.72 L457.77,960.13 L459.25,958.53 L460.74,956.93 L462.22,955.32 L463.70,953.71 L465.19,952.10 L466.67,950.47 L468.16,948.85 L469.64,947.21 L471.12,945.58 L472.61,943.93 L474.09,942.29 L475.58,940.64 L477.06,938.98 L478.54,937.32 L480.03,935.65 L481.51,933.98 L483.00,932.31 L484.48,930.63 L485.96,928.95 L487.45,927.26 L488.93,925.57 L490.42,923.88 L491.90,922.18 L493.38,920.48 L494.87,918.78 L496.35,917.07 L497.84,915.36 L499.32,913.64 L500.80,911.93 L502.29,910.20 L503.77,908.46 L505.26,906.72 L506.74,904.97 L508.22,903.21 L509.71,901.45 L511.19,899.68 L512.68,897.90 L514.16,896.13 L515.64,894.35 L517.13,892.57 L518.61,890.78 L520.10,889.00 L521.58,887.21 L523.06,885.42 L524.55,883.61 L526.03,881.81 L527.52,880.00 L529.99,876.56 L532.47,873.14 L534.95,869.73 L537.43,866.34 L539.90,862.97 L542.38,859.61 L544.86,856.26 L547.34,852.94 L549.81,849.63 L552.29,846.33 L554.77,843.06 L557.25,839.80 L559.73,836.56 L562.20,833.33 L564.68,830.13 L567.16,826.94 L569.64,823.77 L572.11,820.62 L574.59,817.49 L577.07,814.37 L579.55,811.28 L582.02,808.21 L584.50,805.15 L586.98,802.12 L589.46,799.10 L591.93,796.11 L594.41,793.14 L596.89,790.19 L599.37,787.26 L601.84,784.35 L604.32,781.46 L606.80,778.59 L609.28,775.75 L611.75,772.93 L614.23,770.13 L616.71,767.36 L619.19,764.60 L621.67,761.87 L624.14,759.17 L626.62,756.48 L629.10,753.83 L631.58,751.19 L634.05,748.58 L636.53,746.00 L639.01,743.44 L641.49,740.90 L643.96,738.39 L646.44,735.91 L648.92,733.45 L651.40,731.01 L653.87,728.61 L656.35,726.23 L658.83,723.87 L661.31,721.55 L663.78,719.25 L666.26,716.98 L668.74,714.73 L671.22,712.51 L673.70,710.33 L676.17,708.17 L678.65,706.03 L681.13,703.93 L683.61,701.86 L686.08,699.81 L688.56,697.80 L691.04,695.81 L693.52,693.85 L695.99,691.93 L698.47,690.03 L700.95,688.17 L703.43,686.33 L705.90,684.53 L708.38,682.76 L710.86,681.02 L713.34,679.31 L715.81,677.63 L718.29,675.99 L720.77,674.37 L723.25,672.79 L725.73,671.25 L728.20,669.73 L730.68,668.25 L733.16,666.80 L735.64,665.39 L738.11,664.01 L740.59,662.67 L743.07,661.36 L745.55,660.08 L748.02,658.84 L750.50,657.63 L752.98,656.46 L755.46,655.33 L757.93,654.23 L760.41,653.17 L762.89,652.14 L765.37,651.15 L767.84,650.20 L770.32,649.28 L772.80,648.40" fill="none" stroke="#e1251b" stroke-width="3.0" stroke-linejoin="round" stroke-linecap="butt"/>
<path d="M91.98,1131.40 L94.03,1131.40 L96.07,1131.40 L98.12,1131.40 L100.16,1131.40 L102.21,1131.40 L104.26,1131.40 L106.30,1131.40 L108.35,1131.40 L110.39,1131.40 L112.44,1131.40 L114.48,1131.40 L116.53,1131.40 L118.57,1131.40 L120.62,1131.40 L122.67,1131.40 L124.71,1131.40 L126.76,1131.40 L128.80,1131.40 L130.85,1131.40 L132.89,1131.40 L134.94,1131.40 L136.98,1131.40 L139.03,1131.40 L141.08,1131.39 L143.12,1131.35 L145.17,1131.30 L147.21,1131.23 L149.26,1131.14 L151.30,1131.04 L153.35,1130.93 L155.39,1130.80 L157.44,1130.66 L159.49,1130.52 L161.53,1130.37 L163.58,1130.21 L165.62,1130.05 L167.67,1129.88 L169.71,1129.72 L171.76,1129.55 L173.81,1129.39 L175.85,1129.23 L177.90,1129.08 L179.94,1128.93 L181.99,1128.79 L184.03,1128.64 L186.08,1128.49 L188.12,1128.34 L190.17,1128.18 L192.22,1128.02 L194.26,1127.86 L196.31,1127.69 L198.35,1127.52 L200.40,1127.35 L202.44,1127.17 L204.49,1126.99 L206.53,1126.80 L208.58,1126.61 L210.63,1126.42 L212.67,1126.22 L214.72,1126.01 L216.76,1125.80 L218.81,1125.59 L220.85,1125.37 L222.90,1125.14 L224.94,1124.91 L226.99,1124.68 L229.04,1124.44 L231.08,1124.19 L233.13,1123.94 L235.17,1123.68 L237.22,1123.42 L239.26,1123.15 L241.31,1122.88 L243.35,1122.60 L245.40,1122.31 L247.45,1122.01 L249.49,1121.71 L251.54,1121.41 L253.58,1121.09 L255.63,1120.77 L257.67,1120.44 L259.72,1120.11 L261.76,1119.76 L263.81,1119.41 L265.86,1119.05 L267.90,1118.68 L269.95,1118.30 L271.99,1117.91 L274.04,1117.52 L276.08,1117.12 L278.13,1116.71 L280.17,1116.29 L282.22,1115.86 L284.27,1115.43 L286.31,1114.99 L288.36,1114.54 L290.40,1114.09 L292.45,1113.62 L294.49,1113.16 L296.54,1112.68 L298.58,1112.20 L300.63,1111.71 L302.68,1111.21 L304.72,1110.69 L306.77,1110.16 L308.81,1109.62 L310.86,1109.07 L312.90,1108.51 L314.95,1107.93 L316.99,1107.34 L319.04,1106.74 L321.09,1106.13 L323.13,1105.51 L325.18,1104.88 L327.22,1104.24 L329.27,1103.58 L331.31,1102.92 L333.36,1102.25 L335.41,1101.56 L337.45,1100.86 L339.50,1100.15 L341.54,1099.42 L343.59,1098.68 L345.63,1097.94 L347.68,1097.17 L349.72,1096.40 L351.77,1095.62 L353.82,1094.82 L355.86,1094.02 L357.91,1093.20 L359.95,1092.37 L362.00,1091.53 L364.04,1090.69 L366.09,1089.83 L368.13,1088.96 L370.18,1088.08 L372.23,1087.19 L374.27,1086.28 L376.32,1085.35 L378.36,1084.40 L380.41,1083.44 L382.45,1082.45 L384.50,1081.46 L386.54,1080.44 L388.59,1079.42 L390.64,1078.37 L392.68,1077.31 L394.73,1076.24 L396.77,1075.15 L398.82,1074.05 L400.86,1072.93 L402.91,1071.80 L404.95,1070.65 L407.00,1069.48 L409.05,1068.29 L411.09,1067.09 L413.14,1065.87 L415.18,1064.64 L417.23,1063.39 L419.27,1062.12 L421.32,1060.85 L423.36,1059.55 L425.41,1058.25 L427.46,1056.92 L429.50,1055.59 L431.55,1054.25 L433.59,1052.89 L435.64,1051.52 L437.68,1050.13 L439.73,1048.74 L441.77,1047.33 L443.82,1045.90 L445.87,1044.43 L447.91,1042.94 L449.96,1041.43 L452.00,1039.89 L454.05,1038.33 L456.09,1036.75 L458.14,1035.15 L460.18,1033.53 L462.23,1031.88 L464.28,1030.22 L466.32,1028.54 L468.37,1026.84 L470.41,1025.13 L472.46,1023.39 L474.50,1021.64 L476.55,1019.88 L478.59,1018.10 L480.64,1016.30 L482.69,1014.48 L484.73,1012.65 L486.78,1010.81 L488.82,1008.95 L490.87,1007.07 L492.91,1005.18 L494.96,1003.28 L497.01,1001.36 L499.05,999.43 L501.10,997.49 L503.14,995.51 L505.19,993.51 L507.23,991.48 L509.28,989.42 L511.32,987.33 L513.37,985.22 L515.42,983.09 L517.46,980.93 L519.51,978.75 L521.55,976.54 L523.60,974.32 L525.64,972.09 L527.69,969.83 L529.73,967.55 L531.78,965.26 L533.83,962.95 L535.87,960.62 L537.92,958.28 L539.96,955.92 L542.01,953.54 L544.05,951.15 L546.10,948.74 L548.14,946.31 L550.19,943.87 L552.24,941.41 L554.28,938.94 L556.33,936.46 L558.37,933.95 L560.42,931.44 L562.46,928.89 L564.51,926.32 L566.55,923.72 L568.60,921.09 L570.65,918.43 L572.69,915.75 L574.74,913.04 L576.78,910.30 L578.83,907.55 L580.87,904.76 L582.92,901.96 L584.96,899.14 L587.01,896.30 L589.06,893.44 L591.10,890.56 L593.15,887.66 L595.19,884.75 L597.24,881.82 L599.28,878.87 L601.33,875.90 L603.37,872.92 L605.42,869.92 L607.47,866.90 L609.51,863.87 L611.56,860.82 L613.60,857.76 L615.65,854.68 L617.69,851.59 L619.74,848.48 L621.78,845.34 L623.83,842.18 L625.88,838.97 L627.92,835.74 L629.97,832.48 L632.01,829.20 L634.06,825.89 L636.10,822.57 L638.15,819.24 L640.19,815.90 L642.24,812.55 L644.29,809.17 L646.33,805.78 L648.38,802.37 L650.42,798.94 L652.47,795.50 L654.51,792.04 L656.56,788.57 L658.61,785.09 L660.65,781.60 L662.70,778.09 L664.74,774.56 L666.79,771.02 L668.83,767.47 L670.88,763.90 L672.92,760.33 L674.97,756.74 L677.02,753.15 L679.06,749.55 L681.11,745.94 L683.15,742.32 L685.20,738.69 L687.24,735.04 L689.29,731.39 L691.33,727.72 L693.38,724.05 L695.43,720.37 L696.21,719.38 L696.99,718.40 L697.77,717.43 L698.55,716.45 L699.33,715.49 L700.11,714.52 L700.90,713.56 L701.68,712.60 L702.46,711.65 L703.24,710.71 L704.02,709.77 L704.80,708.83 L705.59,707.90 L706.37,706.98 L707.15,706.06 L707.93,705.15 L708.71,704.24 L709.49,703.35 L710.27,702.45 L711.06,701.57 L711.84,700.68 L712.62,699.78 L713.40,698.89 L714.18,698.00 L714.96,697.11 L715.75,696.22 L716.53,695.34 L717.31,694.45 L718.09,693.57 L718.87,692.69 L719.65,691.82 L720.44,690.95 L721.22,690.09 L722.00,689.23 L722.78,688.37 L723.56,687.53 L724.34,686.69 L725.12,685.85 L725.91,685.03 L726.69,684.22 L727.47,683.41 L728.25,682.61 L729.03,681.83 L729.81,681.05 L730.60,680.29 L731.38,679.53 L732.16,678.79 L732.94,678.06 L733.72,677.35 L734.50,676.65 L735.28,675.96 L736.07,675.27 L736.85,674.59 L737.63,673.91 L738.41,673.23 L739.19,672.56 L739.97,671.89 L740.76,671.23 L741.54,670.57 L742.32,669.91 L743.10,669.25 L743.88,668.60 L744.66,667.96 L745.45,667.32 L746.23,666.68 L747.01,666.05 L747.79,665.42 L748.57,664.80 L749.35,664.18 L750.13,663.57 L750.92,662.96 L751.70,662.36 L752.48,661.76 L753.26,661.17 L754.04,660.58 L754.82,660.00 L755.61,659.42 L756.39,658.85 L757.17,658.29 L757.95,657.73 L758.73,657.18 L759.51,656.63 L760.29,656.09 L761.08,655.56 L761.86,655.03 L762.64,654.51 L763.42,654.00 L764.20,653.49 L764.98,652.99 L765.77,652.50 L766.55,652.01 L767.33,651.54 L768.11,651.06 L768.89,650.60 L769.67,650.15 L770.46,649.70 L771.24,649.26 L772.02,648.82 L772.80,648.40" fill="none" stroke="#f6891f" stroke-width="3.0" stroke-linejoin="round" stroke-linecap="butt"/>
<path d="M90.71,1131.40 L93.02,1131.40 L95.32,1131.40 L97.63,1131.40 L99.93,1131.40 L102.23,1131.40 L104.54,1131.40 L106.84,1131.40 L109.15,1131.40 L111.45,1131.40 L113.76,1131.40 L116.06,1131.40 L118.37,1131.40 L120.67,1131.40 L122.97,1131.40 L125.28,1131.40 L127.58,1131.40 L129.89,1131.40 L132.19,1131.40 L134.50,1131.40 L136.80,1131.40 L139.10,1131.40 L141.41,1131.38 L143.71,1131.31 L146.02,1131.22 L148.32,1131.09 L150.63,1130.94 L152.93,1130.76 L155.23,1130.56 L157.54,1130.35 L159.84,1130.12 L162.15,1129.89 L164.45,1129.65 L166.76,1129.41 L169.06,1129.17 L171.37,1128.93 L173.67,1128.71 L175.97,1128.50 L178.28,1128.30 L180.58,1128.12 L182.89,1127.96 L185.19,1127.79 L187.50,1127.63 L189.80,1127.47 L192.10,1127.31 L194.41,1127.15 L196.71,1127.00 L199.02,1126.84 L201.32,1126.68 L203.63,1126.51 L205.93,1126.35 L208.23,1126.18 L210.54,1126.02 L212.84,1125.85 L215.15,1125.68 L217.45,1125.52 L219.76,1125.35 L222.06,1125.17 L224.37,1125.00 L226.67,1124.82 L228.97,1124.64 L231.28,1124.45 L233.58,1124.26 L235.89,1124.07 L238.19,1123.88 L240.50,1123.69 L242.80,1123.49 L245.10,1123.29 L247.41,1123.08 L249.71,1122.87 L252.02,1122.66 L254.32,1122.44 L256.63,1122.22 L258.93,1121.98 L261.23,1121.75 L263.54,1121.50 L265.84,1121.25 L268.15,1121.00 L270.45,1120.74 L272.76,1120.48 L275.06,1120.21 L277.37,1119.93 L279.67,1119.65 L281.97,1119.36 L284.28,1119.07 L286.58,1118.77 L288.89,1118.46 L291.19,1118.15 L293.50,1117.83 L295.80,1117.51 L298.10,1117.18 L300.41,1116.85 L302.71,1116.50 L305.02,1116.14 L307.32,1115.78 L309.63,1115.40 L311.93,1115.01 L314.23,1114.62 L316.54,1114.21 L318.84,1113.79 L321.15,1113.37 L323.45,1112.93 L325.76,1112.48 L328.06,1112.03 L330.37,1111.56 L332.67,1111.09 L334.97,1110.60 L337.28,1110.10 L339.58,1109.59 L341.89,1109.07 L344.19,1108.53 L346.50,1107.99 L348.80,1107.43 L351.10,1106.86 L353.41,1106.29 L355.71,1105.70 L358.02,1105.10 L360.32,1104.49 L362.63,1103.87 L364.93,1103.25 L367.23,1102.61 L369.54,1101.96 L371.84,1101.30 L374.15,1100.62 L376.45,1099.93 L378.76,1099.21 L381.06,1098.48 L383.37,1097.74 L385.67,1096.97 L387.97,1096.20 L390.28,1095.40 L392.58,1094.59 L394.89,1093.77 L397.19,1092.93 L399.50,1092.08 L401.80,1091.21 L404.10,1090.33 L406.41,1089.42 L408.71,1088.50 L411.02,1087.56 L413.32,1086.61 L415.63,1085.63 L417.93,1084.65 L420.23,1083.64 L422.54,1082.62 L424.84,1081.59 L427.15,1080.54 L429.45,1079.48 L431.76,1078.41 L434.06,1077.32 L436.37,1076.22 L438.67,1075.11 L440.97,1073.99 L443.28,1072.84 L445.58,1071.66 L447.89,1070.46 L450.19,1069.23 L452.50,1067.97 L454.80,1066.69 L457.10,1065.39 L459.41,1064.06 L461.71,1062.71 L464.02,1061.34 L466.32,1059.95 L468.63,1058.54 L470.93,1057.12 L473.23,1055.67 L475.54,1054.20 L477.84,1052.72 L480.15,1051.22 L482.45,1049.70 L484.76,1048.16 L487.06,1046.61 L489.37,1045.03 L491.67,1043.44 L493.97,1041.83 L496.28,1040.21 L498.58,1038.57 L500.89,1036.91 L503.19,1035.22 L505.50,1033.50 L507.80,1031.74 L510.10,1029.95 L512.41,1028.13 L514.71,1026.27 L517.02,1024.38 L519.32,1022.45 L521.63,1020.48 L523.93,1018.49 L526.23,1016.47 L528.54,1014.42 L530.84,1012.35 L533.15,1010.25 L535.45,1008.13 L537.76,1005.98 L540.06,1003.80 L542.37,1001.59 L544.67,999.36 L546.97,997.09 L549.28,994.80 L551.58,992.49 L553.89,990.14 L556.19,987.77 L558.50,985.36 L560.80,982.93 L563.10,980.45 L565.41,977.91 L567.71,975.32 L570.02,972.68 L572.32,969.98 L574.63,967.23 L576.93,964.43 L579.23,961.57 L581.54,958.66 L583.84,955.71 L586.15,952.72 L588.45,949.69 L590.76,946.62 L593.06,943.50 L595.37,940.34 L597.67,937.15 L599.97,933.91 L602.28,930.63 L604.58,927.32 L606.89,923.96 L609.19,920.56 L611.50,917.13 L613.80,913.66 L616.10,910.14 L618.41,906.59 L620.71,903.00 L623.02,899.33 L625.32,895.57 L627.63,891.72 L629.93,887.80 L632.23,883.82 L634.54,879.78 L636.84,875.70 L639.15,871.58 L641.45,867.43 L643.76,863.20 L646.06,858.91 L648.37,854.55 L650.67,850.15 L652.97,845.71 L655.28,841.25 L657.58,836.76 L659.89,832.27 L662.19,827.75 L664.50,823.18 L666.80,818.56 L669.10,813.92 L671.41,809.26 L673.71,804.61 L676.02,799.97 L678.32,795.36 L680.63,790.79 L682.93,786.20 L685.23,781.58 L687.54,776.96 L689.84,772.33 L692.15,767.70 L694.45,763.10 L696.76,758.53 L699.06,754.00 L701.37,749.51 L703.67,745.09 L705.97,740.74 L708.28,736.48 L710.58,732.30 L712.89,728.15 L715.19,723.99 L717.50,719.83 L719.80,715.70 L722.10,711.62 L724.41,707.60 L726.71,703.66 L729.02,699.82 L731.32,696.10 L733.63,692.52 L735.93,689.09 L738.23,685.84 L740.54,682.77 L742.84,679.80 L745.15,676.89 L747.45,674.05 L749.76,671.27 L752.06,668.57 L754.37,665.94 L756.67,663.40 L758.97,660.95 L761.28,658.59 L763.58,656.34 L765.89,654.18 L768.19,652.14 L770.50,650.21 L772.80,648.40" fill="none" stroke="#3a2a94" stroke-width="3.0" stroke-linejoin="round" stroke-linecap="butt"/>
<path d="M91.28,1131.40 L93.16,1131.40 L95.03,1131.40 L96.90,1131.40 L98.77,1131.40 L100.64,1131.40 L102.51,1131.40 L104.38,1131.40 L106.25,1131.40 L108.12,1131.40 L110.00,1131.40 L111.87,1131.40 L113.74,1131.40 L115.61,1131.40 L117.48,1131.40 L119.35,1131.40 L121.22,1131.40 L123.09,1131.40 L124.96,1131.40 L126.84,1131.40 L128.71,1131.40 L130.58,1131.40 L132.45,1131.40 L134.32,1131.40 L136.19,1131.40 L138.06,1131.40 L139.93,1131.40 L141.81,1131.38 L143.68,1131.36 L145.55,1131.32 L147.42,1131.28 L149.29,1131.22 L151.16,1131.16 L153.03,1131.09 L154.90,1131.01 L156.77,1130.93 L158.65,1130.84 L160.52,1130.75 L162.39,1130.66 L164.26,1130.56 L166.13,1130.47 L168.00,1130.37 L169.87,1130.28 L171.74,1130.18 L173.61,1130.09 L175.49,1130.00 L177.36,1129.92 L179.23,1129.84 L181.10,1129.77 L182.97,1129.70 L184.84,1129.63 L186.71,1129.56 L188.58,1129.49 L190.45,1129.42 L192.33,1129.35 L194.20,1129.28 L196.07,1129.21 L197.94,1129.14 L199.81,1129.06 L201.68,1128.99 L203.55,1128.91 L205.42,1128.84 L207.29,1128.76 L209.17,1128.68 L211.04,1128.60 L212.91,1128.52 L214.78,1128.44 L216.65,1128.36 L218.52,1128.28 L220.39,1128.19 L222.26,1128.10 L224.13,1128.02 L226.01,1127.93 L227.88,1127.84 L229.75,1127.74 L231.62,1127.65 L233.49,1127.55 L235.36,1127.45 L237.23,1127.35 L239.10,1127.25 L240.97,1127.15 L242.85,1127.04 L244.72,1126.93 L246.59,1126.83 L248.46,1126.71 L250.33,1126.60 L252.20,1126.48 L254.07,1126.36 L255.94,1126.24 L257.82,1126.12 L259.69,1125.99 L261.56,1125.86 L263.43,1125.73 L265.30,1125.59 L267.17,1125.45 L269.04,1125.31 L270.91,1125.16 L272.78,1125.01 L274.66,1124.86 L276.53,1124.71 L278.40,1124.55 L280.27,1124.39 L282.14,1124.23 L284.01,1124.06 L285.88,1123.89 L287.75,1123.72 L289.62,1123.54 L291.50,1123.37 L293.37,1123.19 L295.24,1123.00 L297.11,1122.82 L298.98,1122.63 L300.85,1122.44 L302.72,1122.24 L304.59,1122.04 L306.46,1121.83 L308.34,1121.62 L310.21,1121.40 L312.08,1121.18 L313.95,1120.95 L315.82,1120.72 L317.69,1120.48 L319.56,1120.24 L321.43,1119.99 L323.30,1119.74 L325.18,1119.48 L327.05,1119.22 L328.92,1118.96 L330.79,1118.69 L332.66,1118.42 L334.53,1118.14 L336.40,1117.85 L338.27,1117.56 L340.14,1117.27 L342.02,1116.97 L343.89,1116.66 L345.76,1116.35 L347.63,1116.03 L349.50,1115.71 L351.37,1115.38 L353.24,1115.05 L355.11,1114.72 L356.99,1114.38 L358.86,1114.03 L360.73,1113.68 L362.60,1113.32 L364.47,1112.97 L366.34,1112.60 L368.21,1112.23 L370.08,1111.86 L371.95,1111.48 L373.83,1111.09 L375.70,1110.70 L377.57,1110.30 L379.44,1109.88 L381.31,1109.47 L383.18,1109.04 L385.05,1108.60 L386.92,1108.16 L388.79,1107.71 L390.67,1107.26 L392.54,1106.80 L394.41,1106.33 L396.28,1105.85 L398.15,1105.37 L400.02,1104.89 L401.89,1104.39 L403.76,1103.89 L405.63,1103.38 L407.51,1102.86 L409.38,1102.33 L411.25,1101.80 L413.12,1101.25 L414.99,1100.70 L416.86,1100.15 L418.73,1099.58 L420.60,1099.01 L422.47,1098.44 L424.35,1097.85 L426.22,1097.26 L428.09,1096.67 L429.96,1096.06 L431.83,1095.45 L433.70,1094.84 L435.57,1094.22 L437.44,1093.59 L439.31,1092.96 L441.19,1092.33 L443.06,1091.68 L444.93,1091.02 L446.80,1090.35 L448.67,1089.66 L450.54,1088.96 L452.41,1088.26 L454.28,1087.53 L456.15,1086.80 L458.03,1086.05 L459.90,1085.29 L461.77,1084.52 L463.64,1083.73 L465.51,1082.94 L467.38,1082.14 L469.25,1081.33 L471.12,1080.50 L473.00,1079.67 L474.87,1078.83 L476.74,1077.97 L478.61,1077.11 L480.48,1076.24 L482.35,1075.35 L484.22,1074.46 L486.09,1073.56 L487.96,1072.64 L489.84,1071.72 L491.71,1070.78 L493.58,1069.84 L495.45,1068.88 L497.32,1067.91 L499.19,1066.94 L501.06,1065.95 L502.93,1064.94 L504.80,1063.91 L506.68,1062.86 L508.55,1061.79 L510.42,1060.70 L512.29,1059.59 L514.16,1058.46 L516.03,1057.31 L517.90,1056.14 L519.77,1054.95 L521.64,1053.74 L523.52,1052.51 L525.39,1051.27 L527.26,1050.01 L529.13,1048.74 L531.00,1047.45 L532.87,1046.15 L534.74,1044.83 L536.61,1043.49 L538.48,1042.14 L540.36,1040.77 L542.23,1039.39 L544.10,1037.99 L545.97,1036.58 L547.84,1035.16 L549.71,1033.71 L551.58,1032.26 L553.45,1030.78 L555.32,1029.30 L557.20,1027.80 L559.07,1026.28 L560.94,1024.75 L562.81,1023.19 L564.68,1021.60 L566.55,1019.98 L568.42,1018.32 L570.29,1016.65 L572.17,1014.94 L574.04,1013.20 L575.91,1011.44 L577.78,1009.65 L579.65,1007.83 L581.52,1005.99 L583.39,1004.13 L585.26,1002.24 L587.13,1000.34 L589.01,998.41 L590.88,996.46 L592.75,994.49 L594.62,992.49 L596.49,990.48 L598.36,988.45 L600.23,986.39 L602.10,984.32 L603.97,982.22 L605.85,980.10 L607.72,977.97 L609.59,975.81 L611.46,973.64 L613.33,971.44 L615.20,969.23 L617.07,967.00 L618.94,964.75 L620.81,962.48 L622.69,960.16 L624.56,957.79 L626.43,955.38 L628.30,952.92 L630.17,950.44 L632.04,947.92 L633.91,945.38 L635.78,942.83 L637.65,940.26 L639.53,937.68 L641.40,935.07 L643.27,932.40 L644.58,930.14 L645.88,927.82 L647.19,925.45 L648.50,923.04 L649.81,920.58 L651.12,918.08 L652.43,915.54 L653.74,912.95 L655.04,910.32 L656.35,907.66 L657.66,904.95 L658.97,902.21 L660.28,899.43 L661.59,896.61 L662.89,893.77 L664.20,890.88 L665.51,887.97 L666.82,885.03 L668.13,882.05 L669.44,879.05 L670.74,876.02 L672.05,872.96 L673.36,869.88 L674.67,866.78 L675.98,863.65 L677.29,860.50 L678.59,857.33 L679.90,854.14 L681.21,850.93 L682.52,847.71 L683.83,844.47 L685.14,841.21 L686.45,837.94 L687.75,834.66 L689.06,831.37 L690.37,828.06 L691.68,824.75 L692.99,821.43 L694.30,818.10 L695.60,814.77 L696.91,811.43 L698.22,808.08 L699.53,804.74 L700.84,801.39 L702.15,798.05 L703.45,794.70 L704.76,791.36 L706.07,788.02 L707.38,784.68 L708.69,781.35 L710.00,778.03 L711.31,774.71 L712.61,771.40 L713.92,768.11 L715.23,764.82 L716.54,761.55 L717.85,758.29 L719.16,755.04 L720.46,751.81 L721.77,748.60 L723.08,745.40 L724.39,742.22 L725.70,739.07 L727.01,735.93 L728.31,732.82 L729.62,729.73 L730.93,726.67 L732.24,723.63 L733.55,720.62 L734.86,717.63 L736.16,714.68 L737.47,711.75 L738.78,708.86 L740.09,706.00 L741.40,703.17 L742.71,700.38 L744.02,697.63 L745.32,694.91 L746.63,692.23 L747.94,689.59 L749.25,686.99 L750.56,684.43 L751.87,681.91 L753.17,679.44 L754.48,677.02 L755.79,674.63 L757.10,672.30 L758.41,670.02 L759.72,667.78 L761.02,665.60 L762.33,663.46 L763.64,661.38 L764.95,659.36 L766.26,657.39 L767.57,655.47 L768.87,653.61 L770.18,651.82 L771.49,650.08 L772.80,648.40" fill="none" stroke="#00a651" stroke-width="3.0" stroke-linejoin="round" stroke-linecap="butt"/>
<rect x="145.7" y="727.1" width="124.8" height="170.7" fill="none" stroke="#1c1c1c" stroke-width="1.7"/>
<path d="M159.1,753.3 H214.7" stroke="#161616" stroke-width="2.6"/>
<path d="M159.1,783.3 H214.7" stroke="#e1251b" stroke-width="2.6"/>
<path d="M159.1,813.1 H214.7" stroke="#f6891f" stroke-width="2.6"/>
<path d="M159.1,843.1 H214.7" stroke="#3a2a94" stroke-width="2.6"/>
<path d="M159.1,872.3 H214.7" stroke="#00a651" stroke-width="2.6"/>
<text x="9.45" y="19.60" font-size="17" font-weight="bold" fill="#231f20" textLength="8.29" lengthAdjust="spacingAndGlyphs">a</text>
<text x="9.07" y="628.50" font-size="18" font-weight="bold" fill="#231f20" textLength="10.75" lengthAdjust="spacingAndGlyphs">b</text>
<text x="269.32" y="16.90" font-size="17" fill="#231f20" textLength="322.04" lengthAdjust="spacingAndGlyphs">Backscattered electron energy distribution</text>
<text x="223.52" y="628.30" font-size="17" fill="#231f20" textLength="409.67" lengthAdjust="spacingAndGlyphs">Backscattered electron cumulative energy distribution</text>
<text x="47.05" y="523.90" font-size="17" fill="#231f20" textLength="31.75" lengthAdjust="spacingAndGlyphs">0.00</text>
<text x="47.04" y="428.88" font-size="17" fill="#231f20" textLength="31.92" lengthAdjust="spacingAndGlyphs">0.01</text>
<text x="47.04" y="333.86" font-size="17" fill="#231f20" textLength="31.92" lengthAdjust="spacingAndGlyphs">0.02</text>
<text x="47.04" y="238.84" font-size="17" fill="#231f20" textLength="31.92" lengthAdjust="spacingAndGlyphs">0.03</text>
<text x="47.05" y="143.82" font-size="17" fill="#231f20" textLength="31.58" lengthAdjust="spacingAndGlyphs">0.04</text>
<text x="47.04" y="48.80" font-size="17" fill="#231f20" textLength="31.92" lengthAdjust="spacingAndGlyphs">0.05</text>
<text x="86.64" y="544.60" font-size="17" fill="#231f20" textLength="23.03" lengthAdjust="spacingAndGlyphs">0.0</text>
<text x="221.33" y="544.60" font-size="17" fill="#231f20" textLength="23.20" lengthAdjust="spacingAndGlyphs">0.2</text>
<text x="357.62" y="544.60" font-size="17" fill="#231f20" textLength="23.70" lengthAdjust="spacingAndGlyphs">0.4</text>
<text x="492.22" y="544.60" font-size="17" fill="#231f20" textLength="23.77" lengthAdjust="spacingAndGlyphs">0.6</text>
<text x="627.92" y="544.60" font-size="17" fill="#231f20" textLength="23.77" lengthAdjust="spacingAndGlyphs">0.8</text>
<text x="761.51" y="544.60" font-size="17" fill="#231f20" textLength="22.44" lengthAdjust="spacingAndGlyphs">1.0</text>
<text x="413.91" y="572.60" font-size="17" fill="#231f20" textLength="23.91" lengthAdjust="spacingAndGlyphs">E/E</text>
<text x="437.32" y="577.00" font-size="12.4" fill="#231f20" textLength="8.00" lengthAdjust="spacingAndGlyphs">0</text>
<text transform="rotate(-90)" x="-408.23" y="29.00" font-size="17" fill="#231f20" textLength="213.26" lengthAdjust="spacingAndGlyphs">Backscatter η(E), normalized</text>
<text x="42.66" y="1139.00" font-size="17" fill="#231f20" textLength="22.18" lengthAdjust="spacingAndGlyphs">0.0</text>
<text x="42.66" y="1042.40" font-size="17" fill="#231f20" textLength="22.35" lengthAdjust="spacingAndGlyphs">0.2</text>
<text x="42.67" y="945.80" font-size="17" fill="#231f20" textLength="22.01" lengthAdjust="spacingAndGlyphs">0.4</text>
<text x="42.66" y="849.20" font-size="17" fill="#231f20" textLength="22.18" lengthAdjust="spacingAndGlyphs">0.6</text>
<text x="42.66" y="752.60" font-size="17" fill="#231f20" textLength="22.18" lengthAdjust="spacingAndGlyphs">0.8</text>
<text x="41.98" y="656.00" font-size="17" fill="#231f20" textLength="22.88" lengthAdjust="spacingAndGlyphs">1.0</text>
<text x="71.52" y="1161.00" font-size="17" fill="#231f20" textLength="23.56" lengthAdjust="spacingAndGlyphs">0.0</text>
<text x="210.11" y="1161.00" font-size="17" fill="#231f20" textLength="24.06" lengthAdjust="spacingAndGlyphs">0.2</text>
<text x="346.72" y="1161.00" font-size="17" fill="#231f20" textLength="23.59" lengthAdjust="spacingAndGlyphs">0.4</text>
<text x="482.33" y="1161.00" font-size="17" fill="#231f20" textLength="23.13" lengthAdjust="spacingAndGlyphs">0.6</text>
<text x="621.83" y="1161.00" font-size="17" fill="#231f20" textLength="23.35" lengthAdjust="spacingAndGlyphs">0.8</text>
<text x="759.65" y="1161.00" font-size="17" fill="#231f20" textLength="23.53" lengthAdjust="spacingAndGlyphs">1.0</text>
<text x="423.69" y="1183.90" font-size="17" fill="#231f20" textLength="24.45" lengthAdjust="spacingAndGlyphs">E/E</text>
<text x="447.66" y="1188.30" font-size="12.4" fill="#231f20" textLength="7.53" lengthAdjust="spacingAndGlyphs">0</text>
<text transform="rotate(-90)" x="-1047.94" y="15.10" font-size="17" fill="#231f20" textLength="234.42" lengthAdjust="spacingAndGlyphs">Cumulative backscattering (E/E</text>
<text transform="rotate(-90)" x="-812.86" y="19.60" font-size="12.4" fill="#231f20" textLength="6.37" lengthAdjust="spacingAndGlyphs">0</text>
<text transform="rotate(-90)" x="-805.43" y="18.60" font-size="17" fill="#231f20" textLength="4.48" lengthAdjust="spacingAndGlyphs">)</text>
<text x="193.45" y="121.9" font-size="17" fill="#231f20" textLength="11.30" lengthAdjust="spacingAndGlyphs">C</text>
<text x="194.30" y="149.9" font-size="17" fill="#231f20" textLength="13.91" lengthAdjust="spacingAndGlyphs">Al</text>
<text x="193.45" y="177.7" font-size="17" fill="#231f20" textLength="19.99" lengthAdjust="spacingAndGlyphs">Cu</text>
<text x="194.30" y="205.8" font-size="17" fill="#231f20" textLength="19.13" lengthAdjust="spacingAndGlyphs">Ag</text>
<text x="194.30" y="233.7" font-size="17" fill="#231f20" textLength="19.13" lengthAdjust="spacingAndGlyphs">Au</text>
<text x="222.75" y="763.7" font-size="17" fill="#231f20" textLength="11.30" lengthAdjust="spacingAndGlyphs">C</text>
<text x="223.60" y="793.8" font-size="17" fill="#231f20" textLength="13.91" lengthAdjust="spacingAndGlyphs">Al</text>
<text x="222.75" y="823.3" font-size="17" fill="#231f20" textLength="19.99" lengthAdjust="spacingAndGlyphs">Cu</text>
<text x="223.60" y="853.2" font-size="17" fill="#231f20" textLength="19.13" lengthAdjust="spacingAndGlyphs">Ag</text>
<text x="223.60" y="882.6" font-size="17" fill="#231f20" textLength="19.13" lengthAdjust="spacingAndGlyphs">Au</text>
</svg></body></html>
